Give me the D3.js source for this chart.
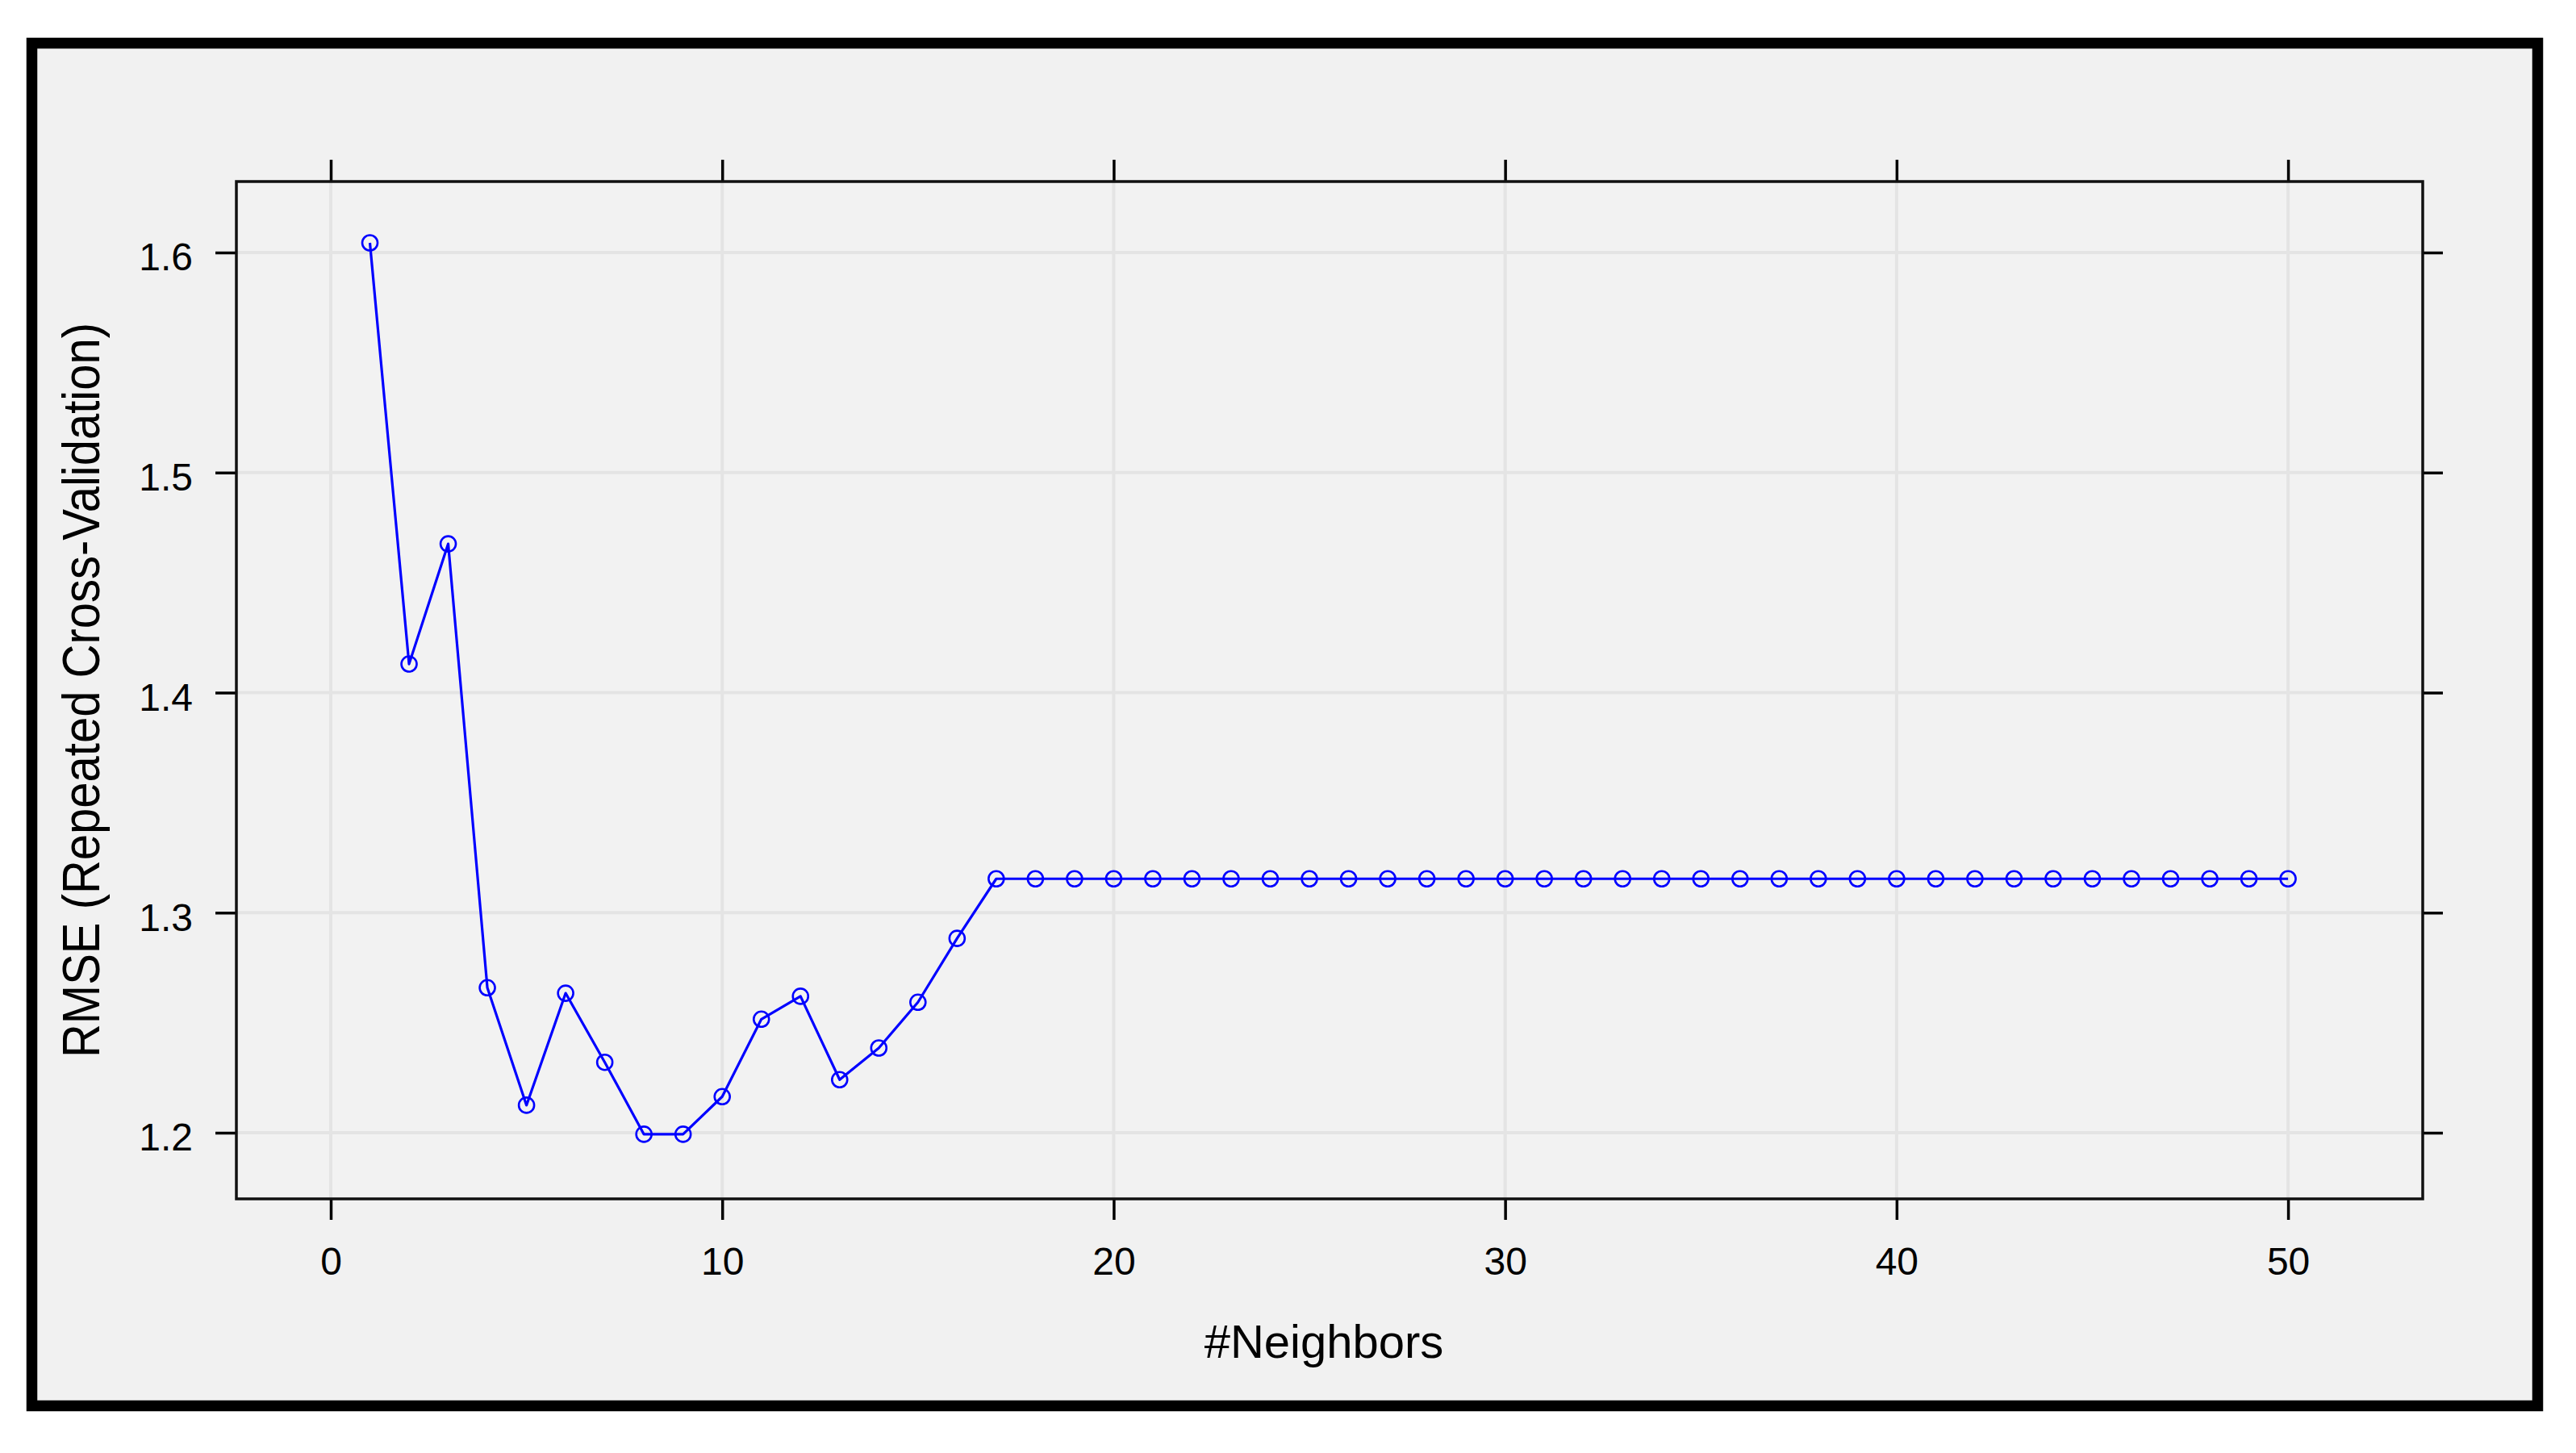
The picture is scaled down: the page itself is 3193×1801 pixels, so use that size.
<!DOCTYPE html>
<html>
<head>
<meta charset="utf-8">
<script src="https://cdn.jsdelivr.net/npm/d3@7"></script>
<style>
  html, body { margin: 0; padding: 0; background: #ffffff; }
  svg { display: block; }
  text { font-family: "Liberation Sans", Arial, sans-serif; fill: #000; }
</style>
</head>
<body>
<svg id="chart" width="3193" height="1801"></svg>
<script>
// ---- data ----
const neighbors = [1,2,3,4,5,6,7,8,9,10,11,12,13,14,15,16,17,18,19,20,21,22,23,24,25,26,27,28,29,30,31,32,33,34,35,36,37,38,39,40,41,42,43,44,45,46,47,48,49,50];
const rmse = [1.6044, 1.4130, 1.4676, 1.2659, 1.2125, 1.2634, 1.2320, 1.1993, 1.1993, 1.2164,
              1.2516, 1.2620, 1.2241, 1.2385, 1.2593, 1.2883, 1.3154, 1.3154, 1.3154, 1.3154,
              1.3154, 1.3154, 1.3154, 1.3154, 1.3154, 1.3154, 1.3154, 1.3154, 1.3154, 1.3154,
              1.3154, 1.3154, 1.3154, 1.3154, 1.3154, 1.3154, 1.3154, 1.3154, 1.3154, 1.3154,
              1.3154, 1.3154, 1.3154, 1.3154, 1.3154, 1.3154, 1.3154, 1.3154, 1.3154, 1.3154];
const xTicks = [0, 10, 20, 30, 40, 50];
const yTicks = [1.2, 1.3, 1.4, 1.5, 1.6];
const xTitle = "#Neighbors";
const yTitle = "RMSE (Repeated Cross-Validation)";

// ---- layout ----
const svg = d3.select("#chart");
const plot = { left: 293, right: 3003, top: 225, bottom: 1486 };

// outer frame
svg.append("rect")
  .attr("x", 39.5).attr("y", 53.5)
  .attr("width", 3106).attr("height", 1689)
  .attr("fill", "#f1f1f1")
  .attr("stroke", "#000").attr("stroke-width", 13.5);

const x = d3.scaleLinear().domain([-2.411, 53.44]).range([plot.left, plot.right]);
const y = d3.scaleLinear().domain([1.16994, 1.63226]).range([plot.bottom, plot.top]);

// panel background
svg.append("rect")
  .attr("x", plot.left).attr("y", plot.top)
  .attr("width", plot.right - plot.left).attr("height", plot.bottom - plot.top)
  .attr("fill", "#f2f2f2");

// grid
const grid = svg.append("g").attr("stroke", "#e4e4e4").attr("stroke-width", 4);
grid.selectAll("line.v").data(xTicks).join("line")
  .attr("x1", d => x(d)).attr("x2", d => x(d))
  .attr("y1", plot.top).attr("y2", plot.bottom);
grid.selectAll("line.h").data(yTicks).join("line")
  .attr("x1", plot.left).attr("x2", plot.right)
  .attr("y1", d => y(d)).attr("y2", d => y(d));

// axes
function styleAxis(g) {
  g.select(".domain").remove();
  g.selectAll(".tick line").attr("stroke", "#000").attr("stroke-width", 3.5);
  g.selectAll(".tick text").style("font-size", "48px").attr("fill", "#000")
    .style("font-family", '"Liberation Sans", Arial, sans-serif');
}

const gBottom = svg.append("g").attr("transform", `translate(0,${plot.bottom})`)
  .call(d3.axisBottom(x).tickValues(xTicks).tickSize(26).tickPadding(34).tickFormat(d3.format("d")));
styleAxis(gBottom);

const gTop = svg.append("g").attr("transform", `translate(0,${plot.top})`)
  .call(d3.axisTop(x).tickValues(xTicks).tickSize(27).tickFormat(""));
styleAxis(gTop);

const gLeft = svg.append("g").attr("transform", `translate(${plot.left},0)`)
  .call(d3.axisLeft(y).tickValues(yTicks).tickSize(26).tickPadding(28).tickFormat(d3.format(".1f")));
styleAxis(gLeft);
gLeft.selectAll(".tick text").attr("dy", "0.458em");

const gRight = svg.append("g").attr("transform", `translate(${plot.right},0)`)
  .call(d3.axisRight(y).tickValues(yTicks).tickSize(25).tickFormat(""));
styleAxis(gRight);

// panel border
svg.append("rect")
  .attr("x", plot.left).attr("y", plot.top)
  .attr("width", plot.right - plot.left).attr("height", plot.bottom - plot.top)
  .attr("fill", "none").attr("stroke", "#111").attr("stroke-width", 3.5);

// series
const data = neighbors.map((k, i) => ({ k, v: rmse[i] }));
const line = d3.line().x(d => x(d.k)).y(d => y(d.v));
svg.append("path").datum(data)
  .attr("d", line)
  .attr("fill", "none")
  .attr("stroke", "#0000ff")
  .attr("stroke-width", 3.2)
  .attr("stroke-linejoin", "round");

svg.append("g").selectAll("circle").data(data).join("circle")
  .attr("cx", d => x(d.k)).attr("cy", d => y(d.v))
  .attr("r", 9.5)
  .attr("fill", "none")
  .attr("stroke", "#0000ff")
  .attr("stroke-width", 2.6);

// titles
svg.append("text")
  .attr("x", (plot.left + plot.right) / 2 - 7).attr("y", 1683)
  .attr("text-anchor", "middle")
  .style("font-size", "58px")
  .text(xTitle);

svg.append("text")
  .attr("transform", `translate(123,${(plot.top + plot.bottom) / 2}) rotate(-90) scale(1,1.13)`)
  .attr("text-anchor", "middle")
  .style("font-size", "58px")
  .text(yTitle);
</script>
</body>
</html>
